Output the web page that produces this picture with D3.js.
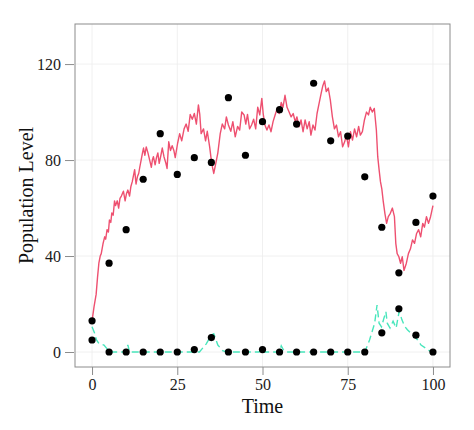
<!DOCTYPE html>
<html>
<head>
<meta charset="utf-8">
<script src="https://cdn.jsdelivr.net/npm/d3@7"></script>
<style>
  body { margin: 0; background: #fff; }
  text { font-family: "Liberation Serif", "DejaVu Serif", serif; }
</style>
</head>
<body>
<div id="chart-container"></div>
<script>
// simulated population path (red, solid)
const predTime = [0, 0.6, 1.2, 1.6, 2.0, 2.4, 2.7, 3.2, 3.7, 4.0, 4.4, 4.8, 5.1, 5.5, 5.8, 6.2, 6.6, 6.9, 7.4, 7.8,
    8.2, 8.6, 9.2, 9.7, 10.1, 10.5, 11.0, 11.4, 11.8, 12.5, 12.9, 13.3, 13.7, 14.0, 14.4, 14.8, 15.1, 15.5, 15.9, 16.4,
    16.9, 17.4, 17.7, 18.0, 18.5, 18.9, 19.3, 19.7, 20.2, 20.6, 21.1, 21.6, 22.0, 22.5, 23.0, 23.5, 24.0, 24.4, 25.1, 25.7,
    26.3, 27.0, 27.6, 28.2, 28.8, 29.4, 30.0, 30.6, 31.2, 31.6, 32.0, 32.7, 33.3, 33.8, 34.5, 35.1, 35.7, 36.3, 36.9, 37.6,
    38.2, 38.9, 39.4, 40.0, 40.7, 41.3, 42.0, 42.7, 43.3, 43.9, 44.6, 45.1, 45.6, 46.2, 46.8, 47.4, 48.0, 48.6, 49.2, 49.8,
    50.2, 50.7, 51.3, 51.9, 52.5, 53.1, 53.7, 54.3, 54.9, 55.5, 56.0, 56.6, 57.2, 57.8, 58.4, 59.0, 59.6, 60.1, 60.7, 61.3,
    61.9, 62.5, 63.1, 63.7, 64.2, 64.8, 65.4, 66.0, 66.6, 67.2, 67.7, 68.2, 68.7, 69.3, 69.9, 70.5, 71.1, 71.7, 72.3, 72.9,
    73.5, 74.1, 74.6, 75.2, 75.8, 76.4, 77.0, 77.6, 78.2, 78.7, 79.3, 79.9, 80.5, 81.1, 81.6, 82.2, 82.8, 83.4, 83.8, 84.2,
    84.6, 85.0, 85.4, 85.9, 86.4, 86.9, 87.5, 88.1, 88.7, 89.1, 89.5, 90.0, 90.5, 91.0, 91.5, 92.2, 92.8, 93.4, 94.0, 94.6,
    95.2, 95.8, 96.4, 97.0, 97.5, 98.1, 98.7, 99.3, 100];
const predLevel = [13, 19, 24, 31, 37, 40, 41, 45, 48, 47, 51, 50, 55, 54, 58, 57, 63, 61, 63, 60,
    64, 65, 67, 63, 66, 67.5, 65, 69, 71, 76, 70, 73, 74.5, 77, 80, 83, 85, 82, 85.5, 83,
    80, 77, 80, 81.4, 78, 81, 83, 78.6, 82, 85, 81.4, 79, 76.5, 87.6, 84, 86, 84, 81, 87, 91,
    88, 93, 95, 92, 99, 97, 99.4, 95, 103, 99, 91, 93, 88, 92, 85.5, 78.6, 74.4, 78.6, 83, 91,
    95, 93, 98, 94.6, 92, 96, 89.7, 94, 92.5, 100, 98.8, 95, 99, 93, 94.6, 97, 93, 102, 98.8, 105.7,
    99.4, 94.6, 92.5, 94.6, 91.8, 96, 98.8, 101.5, 99.4, 104, 102, 107, 102, 100, 98, 99.4, 96, 98, 93.9, 96.7,
    91.8, 96.7, 93, 96, 90.4, 94.6, 92.5, 99.4, 103.6, 107.8, 111, 113, 108.5, 110, 105, 98, 93, 94.6, 89.7, 91.8,
    85.5, 87.6, 90.4, 85.5, 91.8, 88.3, 93, 89.7, 94, 90.4, 91.8, 96.7, 100, 98.8, 102, 100, 101.5, 92.5, 81.4, 76,
    71, 68, 63, 57.8, 53.6, 56.4, 57.8, 60, 56.4, 45.3, 41, 39.7, 37, 39.7, 34, 37, 41, 43, 46.7, 45.3,
    49.4, 51, 48, 53.6, 52, 56.4, 53.6, 56.4, 61];

// second population path (cyan, dashed)
const predTime2 = [0, 0.7, 1.3, 2.0, 3.5, 4.3, 5.1, 10.0, 10.5, 11.0, 31.5, 33.5, 35.0, 35.7, 36.9, 38.3, 39.5, 49.0, 49.7, 50.5,
    55.0, 55.5, 56.3, 57.0, 80.0, 81.4, 82.9, 83.6, 84.2, 84.9, 85.6, 86.2, 86.6, 87.4, 88.3, 89.2, 90.1, 90.9, 91.7, 92.5,
    93.5, 94.5, 95.5, 96.5, 98.0, 99.5, 100];
const predLevel2 = [10.5, 8, 5, 3.6, 2.9, 1.5, 0, 0, 3, 0, 0, 3.4, 7.1, 7.6, 2.9, 0.6, 0, 0, 1.5, 0,
    0, 2.6, 0.5, 0, 0, 5, 12, 19.6, 12, 10.5, 14, 16.8, 12, 10, 12.8, 10, 17, 13.4, 10.7, 9.3,
    7.9, 6.5, 5, 2.9, 1.5, 0, 0];

// observations every 5 time units
const obsTime = [0, 5, 10, 15, 20, 25, 30, 35, 40, 45, 50, 55, 60, 65, 70, 75, 80, 85, 90, 95, 100];
const obsLevel = [13, 37, 51, 72, 91, 74, 81, 79, 106, 82, 96, 101, 95, 112, 88, 90, 73, 52, 33, 54, 65];
const obsLevel2 = [5, 0, 0, 0, 0, 0, 1, 6, 0, 0, 1, 0, 0, 0, 0, 0, 0, 8, 18, 7, 0];

const xTicks = [0, 25, 50, 75, 100];
const yTicks = [0, 40, 80, 120];

const chartWidth = 474;
const chartHeight = 430;
const panel = {left: 75, right: 450, top: 24, bottom: 367};
const redColor = "#ee5070";
const cyanColor = "#48e6bc";

const svg = d3.select("#chart-container").append("svg")
    .attr("width", chartWidth)
    .attr("height", chartHeight);

svg.append("rect")
    .attr("width", chartWidth)
    .attr("height", chartHeight)
    .attr("fill", "white");

const xScale = d3.scaleLinear().domain([-5, 105]).range([panel.left, panel.right]);
const yScale = d3.scaleLinear().domain([-6.25, 136.7]).range([panel.bottom, panel.top]);

// grid
svg.append("g").selectAll("line.vg")
    .data(xTicks).enter().append("line")
    .attr("x1", d => xScale(d)).attr("x2", d => xScale(d))
    .attr("y1", panel.top).attr("y2", panel.bottom)
    .attr("stroke", "#ececec").attr("stroke-width", 0.8);
svg.append("g").selectAll("line.hg")
    .data(yTicks).enter().append("line")
    .attr("y1", d => yScale(d)).attr("y2", d => yScale(d))
    .attr("x1", panel.left).attr("x2", panel.right)
    .attr("stroke", "#ececec").attr("stroke-width", 0.8);

// lines
const redPoints = predTime.map((t, i) => [t, predLevel[i]]);
const cyanPoints = predTime2.map((t, i) => [t, predLevel2[i]]);
const line = d3.line().x(d => xScale(d[0])).y(d => yScale(d[1]));

svg.append("path")
    .datum(cyanPoints)
    .attr("d", line)
    .attr("fill", "none")
    .attr("stroke", cyanColor)
    .attr("stroke-width", 1.4)
    .attr("stroke-dasharray", "7,4");

svg.append("path")
    .datum(redPoints)
    .attr("d", line)
    .attr("fill", "none")
    .attr("stroke", redColor)
    .attr("stroke-width", 1.4)
    .attr("stroke-linejoin", "round");

// observation dots
const dots = obsTime.map((t, i) => [t, obsLevel[i]]).concat(obsTime.map((t, i) => [t, obsLevel2[i]]));
svg.append("g").selectAll("circle")
    .data(dots).enter().append("circle")
    .attr("cx", d => xScale(d[0]))
    .attr("cy", d => yScale(d[1]))
    .attr("r", 3.6)
    .attr("fill", "black");

// panel border
svg.append("rect")
    .attr("x", panel.left).attr("y", panel.top)
    .attr("width", panel.right - panel.left)
    .attr("height", panel.bottom - panel.top)
    .attr("fill", "none")
    .attr("stroke", "#8c8c8c")
    .attr("stroke-width", 1);

// axes
const xAxis = d3.axisBottom(xScale).tickValues(xTicks).tickSize(8).tickPadding(4);
const yAxis = d3.axisLeft(yScale).tickValues(yTicks).tickSize(9).tickPadding(4);

const gx = svg.append("g")
    .attr("transform", `translate(0, ${panel.bottom})`)
    .call(xAxis);
const gy = svg.append("g")
    .attr("transform", `translate(${panel.left - 1}, 0)`)
    .call(yAxis);

[gx, gy].forEach(g => {
    g.select(".domain").remove();
    g.selectAll(".tick line").attr("stroke", "#8c8c8c");
    g.selectAll(".tick text")
        .attr("fill", "#1a1a1a")
        .style("font-size", "16px")
        .style("font-family", "Liberation Serif, serif");
});

svg.append("text")
    .attr("x", xScale(50))
    .attr("y", 413)
    .attr("text-anchor", "middle")
    .attr("fill", "#111")
    .style("font-size", "20px")
    .text("Time");

svg.append("text")
    .attr("transform", `translate(33, ${(panel.top + panel.bottom) / 2}) rotate(-90)`)
    .attr("text-anchor", "middle")
    .attr("fill", "#111")
    .style("font-size", "20px")
    .text("Population Level");
</script>
</body>
</html>
